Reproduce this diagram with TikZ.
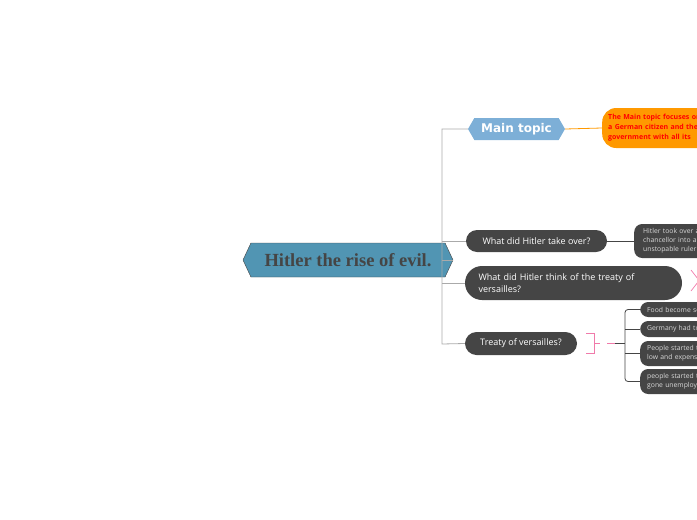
\documentclass[tikz,border=0pt]{standalone}
\usepackage{fontspec}
\setmainfont{Open Sans}
\newfontfamily\serifb{Liberation Serif}
\newfontfamily\dejab{DejaVu Sans}
\usetikzlibrary{shapes.geometric,shapes.misc,shapes.symbols}
\definecolor{rootc}{HTML}{5195B3}
\definecolor{mainc}{HTML}{7DAFD7}
\definecolor{darkc}{HTML}{454545}
\definecolor{orng}{HTML}{FF9900}
\definecolor{pinkc}{HTML}{F07AAA}
\definecolor{linec}{HTML}{AAAAAA}
\tikzset{
 dark/.style={fill=darkc,text=white,rounded rectangle,inner sep=0pt,font=\fontsize{9}{12}\selectfont},
 small/.style={fill=darkc,text=white!85!black,rectangle,rounded corners=8pt,inner sep=0pt,font=\fontsize{6.8}{9}\selectfont,anchor=west,align=left},
 conn/.style={draw=linec,line width=0.8pt},
}
\begin{document}
\begin{tikzpicture}[x=1pt,y=-1pt]
\useasboundingbox (0,0) rectangle (697,520);
\clip (0,0) rectangle (697,520);
% root
\node[draw=darkc,fill=rootc,signal,signal to=east and west,signal pointer angle=130,minimum width=210pt,minimum height=34pt,inner sep=0pt,font=\serifb\bfseries\fontsize{18.5}{22}\selectfont,text=darkc] (root) at (348,260) {Hitler the rise of evil.};
% main topic
\node[fill=mainc,signal,signal to=east and west,signal pointer angle=120,minimum width=97pt,minimum height=22pt,inner sep=0pt,text=white,font=\dejab\bfseries\fontsize{12}{14}\selectfont] (mt) at (516.5,129) {Main topic};
\node[fill=orng,rounded corners=14pt,anchor=west,minimum width=130pt,minimum height=40pt,text=red,font=\bfseries\fontsize{7}{10}\selectfont,align=left,text width=118pt] (mtd) at (602,128) {The Main topic focuses on\\a German citizen and the\\government with all its};
\node[dark,minimum width=141pt,minimum height=22pt] (q1) at (536.5,241) {What did Hitler take over?};
\node[small,minimum width=90pt,minimum height=34pt,text width=80pt] (a1) at (634,241) {\hspace*{4pt}Hitler took over as\\\hspace*{4pt}chancellor into an\\\hspace*{4pt}unstopable ruler};
\node[dark,minimum width=217pt,minimum height=34pt,align=left,text width=190pt] (q2) at (573.5,283) {What did Hitler think of the treaty of\\versailles?};
\node[dark,minimum width=112pt,minimum height=23pt] (q3) at (521,343.5) {Treaty of versailles?};
\node[small,minimum width=90pt,minimum height=15pt,text width=76pt] (b1) at (640,309.5) {Food become scarce};
\node[small,minimum width=90pt,minimum height=16pt,text width=76pt] (b2) at (640,329) {Germany had to pay};
\node[small,minimum width=90pt,minimum height=25pt,text width=76pt] (b3) at (640,353.5) {People started to get\\low and expensive};
\node[small,minimum width=90pt,minimum height=25pt,text width=76pt] (b4) at (640,381.5) {people started to have\\gone unemployed};
% trunk
\coordinate (tk) at (442,260);
\draw[conn] (root.east) -- (tk);
\draw[conn] (mt.west) -- (442,129) -- (442,344) -- (q3.west);
\draw[conn] (442,241) -- (q1.west);
\draw[conn] (442,283) -- (q2.west);
\draw[orng,line width=0.8pt] (mt.east) -- (mtd.west);
\draw[darkc,line width=0.8pt] (q1.east) -- (a1.west);
% pink marks
\draw[pinkc,line width=0.7pt] (691,270) -- (698,279);
\draw[pinkc,line width=0.7pt] (691,291) -- (698,282);
\draw[pinkc,line width=0.8pt] (586,333.5) -- (594,333.5) -- (594,353.5) -- (586,353.5) (594,343.5) -- (600,343.5);
\coordinate (pk) at (607,343.5);
\draw[pinkc,line width=0.8pt] (pk) -- (615,343.5);
\draw[darkc,line width=0.8pt] (615,343.5) -- (625,343.5);
\draw[darkc,line width=0.8pt,rounded corners=3pt] (b1.west) -- (625,309.5) -- (625,381.5) -- (b4.west);
\draw[darkc,line width=0.8pt] (625,329) -- (b2.west);
\draw[darkc,line width=0.8pt] (625,353.5) -- (b3.west);
\end{tikzpicture}
\end{document}
